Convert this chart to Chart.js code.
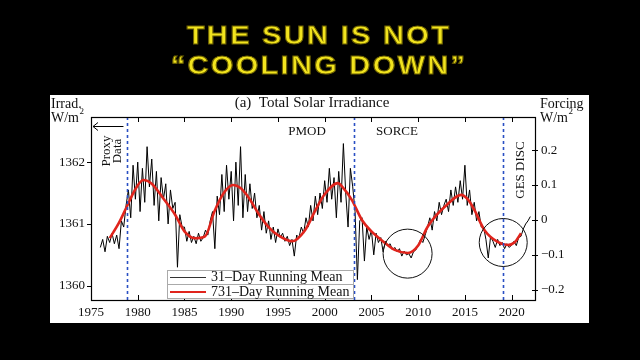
<!DOCTYPE html>
<html>
<head>
<meta charset="utf-8">
<script src="https://cdn.jsdelivr.net/npm/chart.js@4.4.1/dist/chart.umd.min.js"></script>
<style>
  html, body { margin: 0; padding: 0; background: #000; }
  #wrap { width: 640px; height: 360px; }
</style>
</head>
<body>
<div id="wrap"><canvas id="tsi" width="640" height="360"></canvas></div>
<script>
// 31-day running mean, 4 values per year from 1976.0
const meanStart = 1976;
const meanStep = 0.25;
const mean31 = [
  1360.62, 1360.75, 1360.55, 1360.80,
  1360.70, 1360.85, 1360.68, 1360.82,
  1360.60, 1361.05, 1360.95, 1361.30,
  1361.55, 1361.10, 1361.95, 1361.40,
  1362.00, 1361.20, 1361.90, 1361.35,
  1362.25, 1361.60, 1362.05, 1361.30,
  1361.85, 1361.05, 1361.75, 1361.40,
  1361.65, 1361.00, 1361.55, 1361.25,
  1361.35, 1360.30, 1361.15, 1360.95,
  1360.95, 1360.72, 1360.88, 1360.70,
  1360.80, 1360.68, 1360.85, 1360.72,
  1360.78, 1360.90, 1360.82, 1361.05,
  1361.20, 1360.60, 1361.45, 1361.15,
  1361.80, 1361.20, 1361.95, 1361.40,
  1361.85, 1361.05, 1362.00, 1361.30,
  1362.25, 1361.10, 1361.80, 1361.20,
  1361.65, 1361.25, 1361.50, 1361.10,
  1361.30, 1360.90, 1361.20, 1360.85,
  1361.05, 1360.75, 1360.95, 1360.70,
  1360.92, 1360.78, 1360.85, 1360.72,
  1360.80, 1360.65, 1360.75, 1360.48,
  1360.82, 1360.78, 1360.95, 1360.85,
  1361.10, 1360.95, 1361.30, 1361.05,
  1361.45, 1361.15, 1361.50, 1361.25,
  1361.70, 1361.35, 1361.90, 1361.40,
  1361.75, 1361.10, 1361.85, 1361.35,
  1362.30, 1361.50, 1360.95, 1361.90,
  1361.60, 1361.20, 1360.10, 1361.05,
  1361.10, 1360.40, 1360.95, 1360.75,
  1360.90, 1360.50, 1360.85, 1360.70,
  1360.78, 1360.55, 1360.72, 1360.65,
  1360.68, 1360.58, 1360.62, 1360.55,
  1360.60, 1360.48, 1360.56, 1360.50,
  1360.52, 1360.45, 1360.55, 1360.58,
  1360.65, 1360.75, 1360.70, 1360.82,
  1360.95, 1361.10, 1360.90, 1361.20,
  1361.05, 1361.35, 1361.15, 1361.30,
  1361.40, 1361.20, 1361.55, 1361.30,
  1361.60, 1361.35, 1361.70, 1361.40,
  1361.95, 1361.30, 1361.55, 1361.15,
  1361.35, 1361.05, 1361.20, 1360.95,
  1360.95, 1360.75, 1360.45, 1360.80,
  1360.72, 1360.62, 1360.75, 1360.65,
  1360.70, 1360.60, 1360.68, 1360.62,
  1360.66, 1360.72, 1360.65, 1360.78,
  1360.80, 1360.92, 1361.00, 1361.05,
  1361.12
];

// 731-day running mean
const meanYears731 = [1977.0, 1978.0, 1978.8, 1979.7, 1980.6, 1981.5, 1982.7, 1984.0, 1985.0, 1986.1,
  1987.2, 1988.2, 1989.2, 1990.2, 1991.0, 1991.8, 1993.0, 1994.0, 1995.0, 1996.5,
  1997.9, 1999.0, 2000.0, 2001.4, 2002.0, 2002.9, 2004.0, 2005.0, 2006.0, 2007.5,
  2008.9, 2010.0, 2011.0, 2012.0, 2013.0, 2014.6, 2015.3, 2016.0, 2017.1, 2018.5,
  2019.6, 2020.3, 2021.0];
const mean731 = [1360.77, 1361.02, 1361.27, 1361.55, 1361.71, 1361.65, 1361.42, 1361.15, 1360.88, 1360.77,
  1360.80, 1361.20, 1361.50, 1361.63, 1361.58, 1361.44, 1361.15, 1360.95, 1360.82, 1360.72,
  1360.90, 1361.22, 1361.48, 1361.66, 1361.58, 1361.39, 1361.06, 1360.88, 1360.75, 1360.58,
  1360.53, 1360.65, 1360.95, 1361.15, 1361.30, 1361.47, 1361.40, 1361.23, 1360.90, 1360.71,
  1360.66, 1360.70, 1360.85];

const yearTicks = [1975, 1980, 1985, 1990, 1995, 2000, 2005, 2010, 2015, 2020];
const irradTicks = [1360, 1361, 1362];
const forcingTicks = [-0.2, -0.1, 0, 0.1, 0.2];
const instrumentBreaks = [1978.9, 2003.1, 2019.1]; // blue dashed lines
const lowCircles = [[2008.87, 1360.52, 24.5], [2019.1, 1360.70, 24]]; // year, irrad, radius px

const irradMin = 1359.77, irradMax = 1362.73;
const forcingZero = 1361.065, forcingPerWatt = 0.1771;

const serif = '"Liberation Serif", "DejaVu Serif", serif';

const blackPts = mean31.map((v, i) => ({ x: meanStart + i * meanStep, y: v }));
const redPts = mean731.map((v, i) => ({ x: meanYears731[i], y: v }));

const decor = {
    id: 'decor',
    beforeDraw(chart) {
        const ctx = chart.ctx;
        ctx.save();
        ctx.fillStyle = '#000';
        ctx.fillRect(0, 0, 640, 360);
        ctx.fillStyle = '#fff';
        ctx.fillRect(50, 95, 539, 228);
        // headline
        ctx.textAlign = 'center';
        ctx.textBaseline = 'middle';
        ctx.font = 'bold 26px "Liberation Sans", Arial, sans-serif';
        ctx.letterSpacing = '2px';
        ctx.fillStyle = '#f2e41e';
        ctx.strokeStyle = '#6e6200';
        ctx.lineWidth = 1;
        ctx.translate(319, 0);
        ctx.scale(1.12, 1);
        ctx.fillText('THE SUN IS NOT', 0, 37);
        ctx.strokeText('THE SUN IS NOT', 0, 37);
        ctx.fillText('\u201CCOOLING DOWN\u201D', 0, 67);
        ctx.strokeText('\u201CCOOLING DOWN\u201D', 0, 67);
        ctx.restore();
    },
    afterDatasetsDraw(chart) {
        const ctx = chart.ctx;
        const a = chart.chartArea;
        const xs = chart.scales.x, ys = chart.scales.y;
        ctx.save();
        // dashed instrument lines
        ctx.strokeStyle = '#2a4fc4';
        ctx.lineWidth = 1.6;
        ctx.setLineDash([3, 3]);
        instrumentBreaks.forEach((yr) => {
            const px = Math.round(xs.getPixelForValue(yr)) + 0.5;
            ctx.beginPath();
            ctx.moveTo(px, a.top);
            ctx.lineTo(px, a.bottom);
            ctx.stroke();
        });
        ctx.setLineDash([]);
        // circles round the minima
        ctx.strokeStyle = '#111';
        ctx.lineWidth = 1;
        lowCircles.forEach((c) => {
            ctx.beginPath();
            ctx.arc(xs.getPixelForValue(c[0]), ys.getPixelForValue(c[1]), c[2], 0, Math.PI * 2);
            ctx.stroke();
        });
        // frame
        ctx.strokeStyle = '#000';
        ctx.lineWidth = 1.2;
        ctx.strokeRect(a.left + 0.5, a.top + 0.5, a.right - a.left, a.bottom - a.top);
        // tick marks
        ctx.lineWidth = 1;
        yearTicks.forEach((yr) => {
            const px = Math.round(xs.getPixelForValue(yr)) + 0.5;
            ctx.beginPath();
            ctx.moveTo(px, a.bottom); ctx.lineTo(px, a.bottom - 5);
            ctx.moveTo(px, a.top); ctx.lineTo(px, a.top + 5);
            ctx.stroke();
        });
        irradTicks.forEach((v) => {
            const py = Math.round(ys.getPixelForValue(v)) + 0.5;
            ctx.beginPath();
            ctx.moveTo(a.left - 4, py); ctx.lineTo(a.left, py);
            ctx.stroke();
        });
        const y2 = chart.scales.y2;
        forcingTicks.forEach((v) => {
            const py = Math.round(y2.getPixelForValue(v)) + 0.5;
            ctx.beginPath();
            ctx.moveTo(a.right - 3, py); ctx.lineTo(a.right + 3, py);
            ctx.stroke();
        });
        // arrow for proxy data
        const arrowY = a.top + 9.5;
        const arrowEnd = xs.getPixelForValue(instrumentBreaks[0]) - 4;
        ctx.beginPath();
        ctx.moveTo(a.left + 2, arrowY); ctx.lineTo(arrowEnd, arrowY);
        ctx.moveTo(a.left + 7, arrowY - 4); ctx.lineTo(a.left + 2, arrowY); ctx.lineTo(a.left + 7, arrowY + 4);
        ctx.stroke();
        // texts
        ctx.fillStyle = '#111';
        ctx.font = '15px ' + serif;
        ctx.textAlign = 'center';
        ctx.textBaseline = 'middle';
        ctx.fillText('(a)  Total Solar Irradiance', 312, 103);
        ctx.font = '13px ' + serif;
        ctx.fillText('PMOD', 307, 132);
        ctx.fillText('SORCE', 397, 132);
        ctx.textAlign = 'left';
        ctx.font = '14px ' + serif;
        ctx.fillText('Irrad.', 51, 104);
        ctx.fillText('W/m', 51, 118);
        ctx.fillText('Forcing', 540, 104);
        ctx.fillText('W/m', 540, 118);
        ctx.font = '9px ' + serif;
        ctx.fillText('2', 51 + ctx.measureText('W/m').width * 14 / 9 + 0.5, 112);
        ctx.fillText('2', 540 + ctx.measureText('W/m').width * 14 / 9 + 0.5, 112);
        // rotated labels
        ctx.font = '13px ' + serif;
        ctx.textAlign = 'center';
        ctx.save();
        ctx.translate(107, 151);
        ctx.rotate(-Math.PI / 2);
        ctx.fillText('Proxy', 0, 0);
        ctx.fillText('Data', 0, 11);
        ctx.restore();
        ctx.save();
        ctx.translate(521, 170);
        ctx.rotate(-Math.PI / 2);
        ctx.fillText('GES DISC', 0, 0);
        ctx.restore();
        // legend
        ctx.fillStyle = '#fff';
        ctx.fillRect(167, 270, 186, 28);
        ctx.strokeStyle = '#aaa';
        ctx.lineWidth = 1;
        ctx.strokeRect(167.5, 270.5, 186, 28);
        ctx.beginPath();
        ctx.moveTo(167.5, 284.5); ctx.lineTo(353.5, 284.5);
        ctx.stroke();
        ctx.strokeStyle = '#333';
        ctx.lineWidth = 1;
        ctx.beginPath(); ctx.moveTo(170, 277.5); ctx.lineTo(206, 277.5); ctx.stroke();
        ctx.strokeStyle = '#e0241c';
        ctx.lineWidth = 2;
        ctx.beginPath(); ctx.moveTo(170, 292); ctx.lineTo(206, 292); ctx.stroke();
        ctx.fillStyle = '#111';
        ctx.textAlign = 'left';
        ctx.font = '14px ' + serif;
        ctx.fillText('31\u2013Day Running Mean', 211, 277);
        ctx.fillText('731\u2013Day Running Mean', 211, 292);
        ctx.restore();
    }
};

new Chart(document.getElementById('tsi'), {
    type: 'line',
    data: {
        datasets: [
            {
                label: '731\u2013Day Running Mean',
                data: redPts,
                borderColor: '#e0241c',
                borderWidth: 2.6,
                pointRadius: 0,
                tension: 0.4,
                cubicInterpolationMode: 'monotone',
            },
            {
                label: '31\u2013Day Running Mean',
                data: blackPts,
                borderColor: '#000',
                borderWidth: 1,
                pointRadius: 0,
                tension: 0,
            },
        ],
    },
    options: {
        responsive: false,
        animation: false,
        events: [],
        layout: { padding: { top: 117, right: 0, left: 0, bottom: 0 } },
        scales: {
            x: {
                type: 'linear',
                min: 1975,
                max: 2022.5,
                afterFit: (s) => { s.height = 60; },
                afterBuildTicks: (s) => { s.ticks = yearTicks.map((v) => ({ value: v })); },
                grid: { display: false, drawTicks: false },
                border: { display: false },
                ticks: {
                    padding: 5,
                    color: '#111',
                    font: { family: serif, size: 13 },
                    callback: (v) => String(v),
                },
            },
            y: {
                type: 'linear',
                position: 'left',
                min: irradMin,
                max: irradMax,
                afterFit: (s) => { s.width = 91; },
                afterBuildTicks: (s) => { s.ticks = irradTicks.map((v) => ({ value: v })); },
                grid: { display: false, drawTicks: false },
                border: { display: false },
                ticks: {
                    padding: 6,
                    color: '#111',
                    font: { family: serif, size: 13 },
                    callback: (v) => String(v),
                },
            },
            y2: {
                type: 'linear',
                position: 'right',
                min: (irradMin - forcingZero) * forcingPerWatt,
                max: (irradMax - forcingZero) * forcingPerWatt,
                afterFit: (s) => { s.width = 105; },
                afterBuildTicks: (s) => { s.ticks = forcingTicks.map((v) => ({ value: v })); },
                grid: { display: false, drawTicks: false },
                border: { display: false },
                ticks: {
                    padding: 6,
                    color: '#111',
                    font: { family: serif, size: 13 },
                    callback: (v) => (v < 0 ? '\u2212' + Math.abs(v) : String(v)),
                },
            },
        },
        plugins: {
            legend: { display: false },
            tooltip: { enabled: false },
        },
    },
    plugins: [decor],
});
</script>
</body>
</html>
